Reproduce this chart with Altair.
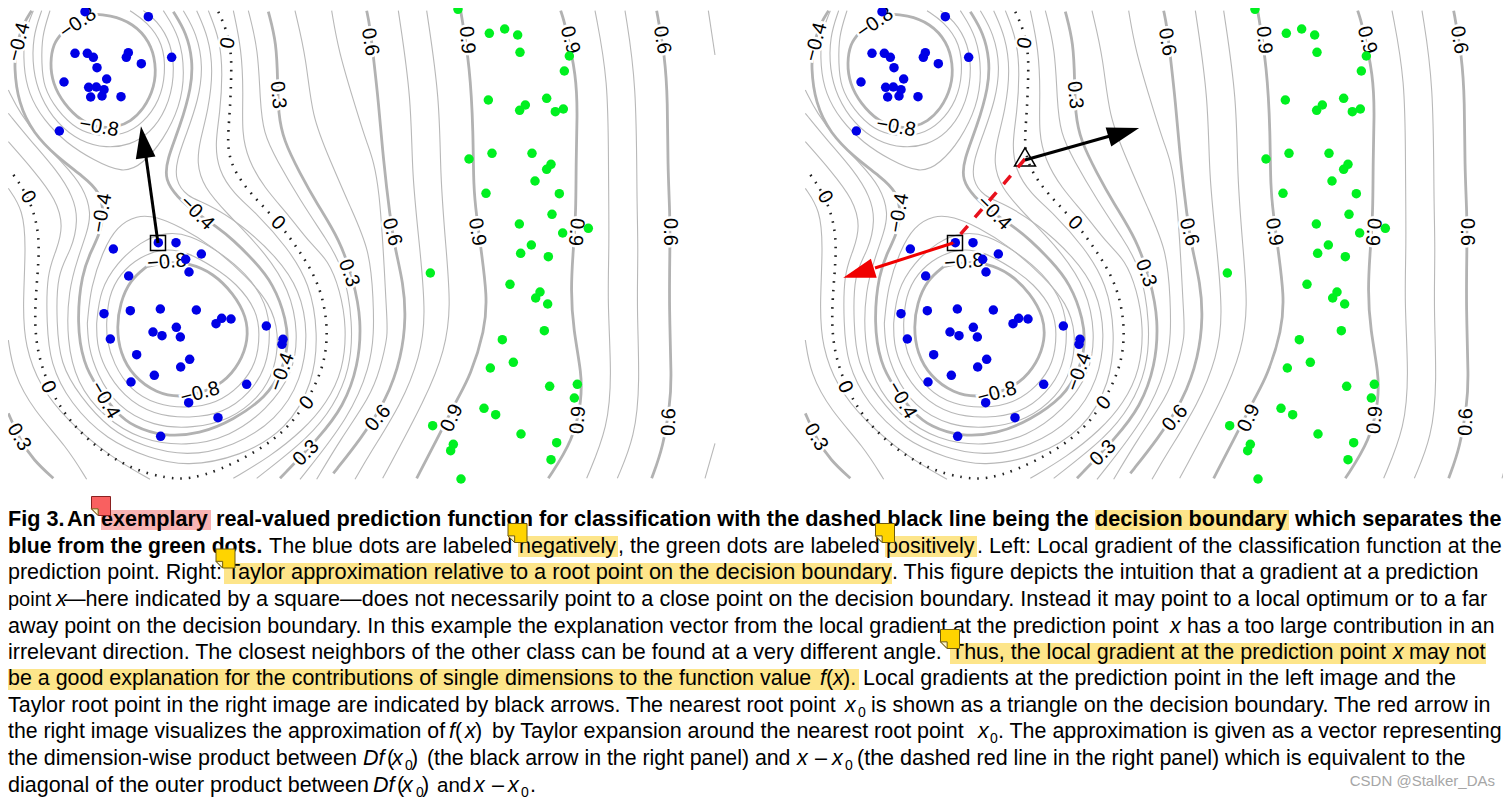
import altair as alt
import pandas as pd

PANEL_SHIFT = 797
# Contours, in thirds of a pixel
thick_m08_top = [(270,42),(330,45),(400,70),(450,125),(468,190),(465,260),(430,330),(390,365),(355,380),(300,385),(245,365),(190,310),(158,250),(150,190),(160,130),(185,100),(225,60)]
thick_m08_low = [(440,800),(390,840),(360,910),(350,980),(360,1060),(400,1130),(470,1180),(540,1192),(600,1180),(670,1150),(720,1090),(745,1020),(740,950),(700,880),(640,820),(570,790),(500,785),(440,800)]
thin_m07_top = [(150,32),(125,110),(125,190),(130,260),(170,330),(230,390),(300,410),(370,405),(430,370),(480,300),(497,220),(490,130),(440,65),(390,32)]
thin_m06_top = [(125,32),(98,110),(98,210),(120,290),(170,370),(240,425),(320,445),(390,435),(450,400),(500,330),(525,230),(515,130),(470,60),(430,32)]
thin_m05_top = [(100,32),(72,100),(70,200),(85,280),(130,360),(200,430),(280,480),(370,522),(430,490),(490,420),(540,320),(555,220),(540,110),(490,32)]
thin_m07_low = [(320,970),(325,890),(360,820),(420,770),(490,745),(560,755),(640,800),(710,850),(770,930),(780,1000),(770,1090),(720,1160),(650,1210),(560,1225),(470,1215),(390,1170),(340,1090),(320,1020),(320,970)]
thin_m06_low = [(290,970),(300,870),(350,790),(420,725),(500,695),(570,705),(650,750),(740,820),(800,910),(812,1000),(800,1100),(750,1180),(670,1240),(570,1255),(460,1245),(370,1190),(310,1100),(290,1030),(290,970)]
thin_m05_low = [(262,970),(272,860),(310,750),(350,680),(410,645),(470,650),(540,680),(640,740),(740,830),(810,910),(838,1000),(825,1110),(780,1190),(690,1260),(580,1285),(460,1280),(350,1220),(290,1120),(265,1040),(262,970)]
thick_m04 = [(95,32),(70,70),(48,140),(42,200),(55,310),(100,400),(170,470),(250,530),(300,575),(312,640),(300,700),(275,750),(245,820),(230,970),(250,1090),(290,1160),(350,1240),(400,1280),(490,1310),(600,1302),(700,1260),(800,1190),(845,1115),(865,1040),(860,960),(820,850),(760,780),(700,720),(650,680),(590,640),(530,590),(495,540),(500,480),(540,380),(575,260),(578,180),(560,100),(520,35)]
thin_m03 = [(25,270),(60,340),(120,420),(190,490),(250,560),(275,640),(260,700),(235,770),(205,870),(200,1020),(230,1150),(310,1250),(420,1320),(560,1340),(690,1310),(800,1230),(880,1120),(895,1000),(870,870),(790,750),(680,640),(610,560),(590,490),(600,420),(625,330),(640,210),(625,110),(590,32)]
thin_m02 = [(25,340),(90,420),(170,510),(220,590),(235,660),(215,750),(170,820),(170,970),(180,1090),(240,1190),(330,1290),(430,1340),(560,1370),(700,1340),(830,1260),(905,1140),(925,1000),(900,870),(830,770),(720,670),(620,610),(560,590),(525,540),(530,480),(560,400),(595,300),(610,200),(590,100),(550,32)]
thin_m01 = [(25,425),(100,510),(170,600),(190,680),(170,750),(140,820),(140,970),(150,1090),(210,1210),(320,1320),(450,1375),(560,1400),(720,1370),(860,1290),(940,1150),(955,1000),(930,850),(860,740),(770,640),(700,580),(655,510),(645,430),(660,340),(668,220),(660,120),(625,32)]
dotted_zero = [(655,35),(680,90),(692,150),(695,200),(690,340),(680,440),(700,510),(750,580),(830,660),(890,740),(960,850),(985,980),(975,1090),(930,1190),(870,1280),(780,1350),(660,1410),(570,1438),(500,1435),(400,1410),(280,1340),(180,1230),(130,1120),(105,1020),(105,900),(120,750),(110,660),(80,580),(30,510)]
thin_p01_a = [(700,32),(725,150),(730,280),(725,400),(745,480),(790,560),(870,650),(930,730),(985,780),(1020,870),(1040,980),(1030,1110),(980,1210),(910,1290),(810,1370),(700,1435)]
thin_p02_a = [(745,32),(775,150),(780,300),(790,400),(830,480),(900,600),(980,720),(1030,800),(1060,970),(1050,1110),(1000,1220),(930,1310),(770,1435)]
thin_p01_b = [(25,565),(70,630),(78,740),(68,920),(75,1040),(120,1160),(200,1260),(330,1370),(450,1438)]
thin_p02_b = [(25,1020),(40,1120),(100,1230),(200,1340),(260,1438)]
thick_p03_a = [(805,35),(830,130),(833,250),(835,340),(850,420),(900,520),(950,610),(1020,720),(1060,840),(1085,960),(1075,1100),(1030,1220),(960,1310),(840,1435)]
thick_p03_b = [(25,1240),(60,1320),(100,1380),(160,1435)]
thin_p04 = [(885,32),(920,180),(935,350),(990,480),(1050,620),(1110,750),(1120,900),(1122,1000),(1110,1100),(1050,1250),(900,1438)]
thin_p05 = [(995,32),(1015,150),(1060,300),(1100,430),(1140,530),(1160,960),(1165,1000),(1140,1110),(1110,1190),(1020,1320),(950,1438)]
thick_p06_a = [(1100,32),(1110,80),(1120,170),(1135,300),(1150,480),(1170,650),(1185,745),(1210,850),(1218,950),(1205,1070),(1160,1200),(1080,1320),(1000,1420)]
thin_p07_a = [(1195,32),(1235,300),(1235,520),(1260,745),(1278,950),(1260,1070),(1205,1210),(1110,1360),(1065,1438)]
thin_p08_a = [(1280,32),(1320,300),(1320,520),(1338,745),(1353,920),(1335,1050),(1280,1190),(1148,1435)]
thick_p09_a = [(1382,32),(1410,200),(1420,400),(1420,560),(1430,650),(1442,740),(1462,890),(1455,990),(1410,1130),(1375,1190),(1310,1320),(1250,1435)]
thick_p09_b = [(1682,32),(1695,70),(1730,230),(1732,350),(1728,480),(1728,640),(1720,745),(1712,870),(1720,990),(1745,1120),(1745,1200),(1720,1320),(1645,1435)]
thin_p08_b = [(1785,32),(1825,240),(1825,500),(1828,745),(1822,900),(1835,1120),(1825,1280),(1760,1435)]
thin_p07_b = [(1875,32),(1910,250),(1910,600),(1915,745),(1910,920),(1920,1150),(1905,1310),(1852,1435)]
thick_p06_b = [(1970,32),(1995,170),(2003,300),(2003,500),(2010,640),(2010,745),(2007,920),(2015,1140),(2010,1210),(1990,1340),(1955,1435)]
thin_p05_b = [(2125,32),(2145,165)]
thin_p05_c = [(2145,1330),(2115,1435)]

thin_contours = [thin_m07_top, thin_m06_top, thin_m05_top, thin_m07_low, thin_m06_low, thin_m05_low, thin_m03, thin_m02, thin_m01,
                 thin_p01_a, thin_p02_a, thin_p01_b, thin_p02_b, thin_p04, thin_p05, thin_p07_a, thin_p08_a, thin_p08_b, thin_p07_b, thin_p05_b, thin_p05_c]
thick_contours = [thick_m08_top, thick_m08_low, thick_m04, thick_p03_a, thick_p03_b, thick_p06_a, thick_p09_a, thick_p09_b, thick_p06_b]
zero_contours = [dotted_zero]

# Contour labels: x, y, text, angle
label_x = [19,78,99,228,278,370,197,278,28,102,167,349,282,200,307,306,105,48,19,378,452,578,669,392,467,477,576,570,662,670]
label_y = [42,23,127,43,95,42,213,223,197,213,262,273,372,393,403,453,400,387,437,418,418,420,422,232,40,232,232,40,40,232]
label_t = ["−0.4","−0.8","−0.8","0","0.3","0.6","−0.4","0","0","−0.4","−0.8","0.3","−0.4","−0.8","0","0.3","−0.4","0","0.3","0.6","0.9","0.9","0.6","0.6","0.9","0.9","0.9","0.9","0.6","0.6"]
label_a = [285,325,10,280,85,80,45,45,60,280,355,70,290,345,310,315,60,65,60,310,295,275,272,75,85,80,95,75,80,90]

# Dots, thirds of a pixel
blue = [(255,35),(445,50),(225,160),(262,160),(280,172),(385,158),(379,172),(424,191),(515,172),(291,203),(320,237),(192,246),(266,262),(289,261),(312,269),(272,291),(306,288),(363,290),(178,393),
        (340,747),(475,728),(528,728),(604,762),(557,778),(567,816),(386,828),(312,941),(391,932),(481,927),(589,930),(665,955),(648,971),(693,957),(799,978),(849,1018),(846,1033),(529,982),(459,996),(486,1007),(541,1011),(331,1017),(410,1064),(569,1078),(542,1101),(463,1126),(393,1146),(740,1153),(566,1208),(654,1253),(482,1309)]
green = [(1374,28),(1468,100),(1514,87),(1553,105),(1560,157),(1708,168),(1693,213),(1465,300),(1576,315),(1559,331),(1640,295),(1666,335),(1690,327),(1476,460),(1407,477),(1596,460),(1653,493),(1640,508),(1605,543),(1458,580),(1678,581),(1656,643),(1558,672),(1765,685),(1688,699),(1594,735),
         (1562,760),(1645,770),(1291,819),(1530,853),(1620,876),(1607,894),(1643,912),(1633,992),(1507,1019),(1540,1087),(1471,1104),(1649,1159),(1732,1153),(1723,1194),(1452,1225),(1487,1244),(1298,1277),(1563,1302),(1360,1333),(1352,1352),(1670,1328),(1653,1379),(1383,1437)]

# Arrows and markers, pixels
black_stem_x = [[158,146],[1025,1110]]
black_stem_y = [[243,157],[160,136]]
red_stem = [(953,243),(875,268)]
dash_line = [(1025,159),(953,243)]
square_x = [158,955]
square_y = [243,243]
triangle = (1025,157)
head_x = [143.3,1123.8,858.5]
head_y = [142,132.5,273]
head_a = [351.6,73.6,253]
head_c = ["black","black","#f00000"]

# Highlights
hl_x = [101,1095,518,885,224,950,8]
hl_x2 = [211,1289,618,977,892,1486,859]
hl_y = [510,510,536,536,563,643,669]
hl_y2 = [530,530,557,557,584,664,690]
hl_c = ["#f8b3b3","#fde58a","#fde58a","#fde58a","#fde58a","#fde58a","#fde58a"]

# Annotation notes
note_x = [101,517.5,225.5,885,950]
note_y = [506,533,558.5,533,639]
note_c = ["#f96060","#ffd400","#ffd400","#ffd400","#ffd400"]
note_b = ["#8a2020","#6e5a10","#6e5a10","#6e5a10","#6e5a10"]

# Caption: line number, x, text, kind
line_y = [526,552.7,579,606,632.6,658.5,685,711.7,738,765,791.7]
line_size = [21.6,21.55,21.5,21.6,21.5,21.5,21.5,21.5,21.45,21.5,21.5]
segment_size = {(0,216):21.7,(1,8):21.2,(1,618):21.5,(2,227):21.75,(3,8):20,(4,1187):21.2,(8,8):21.25,(8,492):21.5,
                (9,427):21.3,(10,437):20.5,(7,8):21.45,(6,8):21.45}
caption = [
 (0,8,"Fig 3.","b"),(0,67,"An","b"),(0,101,"exemplary","b"),(0,216,"real-valued prediction function for classification with the dashed black line being the","b"),(0,1095,"decision boundary","b"),(0,1295,"which separates the","b"),
 (1,8,"blue from the green dots.","b"),(1,269,"The blue dots are labeled","n"),(1,519,"negatively","n"),(1,618,", the green dots are labeled","n"),(1,886,"positively","n"),(1,977,". Left: Local gradient of the classification function at the","n"),
 (2,8,"prediction point. Right:","n"),(2,227,"Taylor approximation relative to a root point on the decision boundary","n"),(2,892,". This figure depicts the intuition that a gradient at a prediction","n"),
 (3,8,"point","n"),(3,56,"x","i"),(3,64,"—here indicated by a square—does not necessarily point to a close point on the decision boundary. Instead it may point to a local optimum or to a far","n"),
 (4,8,"away point on the decision boundary. In this example the explanation vector from the local gradient at the prediction point","n"),(4,1170,"x","i"),(4,1187,"has a too large contribution in an","n"),
 (5,8,"irrelevant direction. The closest neighbors of the other class can be found at a very different angle.","n"),(5,951,"Thus, the local gradient at the prediction point","n"),(5,1393,"x","i"),(5,1409,"may not","n"),
 (6,8,"be a good explanation for the contributions of single dimensions to the function value","n"),(6,820,"f","i"),(6,826,"(","n"),(6,833,"x","i"),(6,843,").","n"),(6,863,"Local gradients at the prediction point in the left image and the","n"),
 (7,8,"Taylor root point in the right image are indicated by black arrows. The nearest root point","n"),(7,845,"x","i"),(7,858,"0","s"),(7,871,"is shown as a triangle on the decision boundary. The red arrow in","n"),
 (8,8,"the right image visualizes the approximation of","n"),(8,449,"f","i"),(8,455,"(","n"),(8,465,"x","i"),(8,475,")","n"),(8,492,"by Taylor expansion around the nearest root point","n"),(8,978,"x","i"),(8,990,"0","s"),(8,998,". The approximation is given as a vector representing","n"),
 (9,8,"the dimension-wise product between","n"),(9,363,"Df","i"),(9,387,"(","n"),(9,392,"x","i"),(9,405,"0","s"),(9,411,")","n"),(9,427,"(the black arrow in the right panel) and","n"),(9,797,"x","i"),(9,815,"–","n"),(9,832,"x","i"),(9,845,"0","s"),(9,857,"(the dashed red line in the right panel) which is equivalent to the","n"),
 (10,8,"diagonal of the outer product between","n"),(10,373,"Df","i"),(10,397,"(","n"),(10,402,"x","i"),(10,416,"0","s"),(10,422,")","n"),(10,437,"and","n"),(10,474,"x","i"),(10,492,"–","n"),(10,508,"x","i"),(10,521,"0","s"),(10,530,".","n"),
]

def contour_frame(contours, prefix):
    rows = []
    for shift, panel in ((0, "L"), (PANEL_SHIFT, "R")):
        for n, c in enumerate(contours):
            for i, (a, b) in enumerate(c):
                rows.append({"x": a / 3 + shift, "y": b / 3, "id": f"{prefix}{panel}{n}", "i": i})
    return pd.DataFrame(rows)

def both(points):
    return pd.DataFrame([{"x": a / 3 + s, "y": b / 3} for s in (0, PANEL_SHIFT) for a, b in points])

xs = alt.Scale(domain=[8, 1503], nice=False, zero=False)
ys = alt.Scale(domain=[797, 8], nice=False, zero=False)
X = alt.X("x:Q", scale=xs, axis=None)
Y = alt.Y("y:Q", scale=ys, axis=None)

def lines(df, **kw):
    return alt.Chart(df).mark_line(interpolate="basis", **kw).encode(X, Y, detail="id:N", order="i:Q")

hl = alt.Chart(pd.DataFrame({"x": hl_x, "x2": hl_x2, "y": hl_y, "y2": hl_y2, "c": hl_c})).mark_rect().encode(
    X, alt.X2("x2:Q"), Y, alt.Y2("y2:Q"), color=alt.Color("c:N", scale=None))

thin = lines(contour_frame(thin_contours, "t"), color="#b8b8b8", strokeWidth=1.1)
thick = lines(contour_frame(thick_contours, "k"), color="#b2b2b2", strokeWidth=2.8)
zero = lines(contour_frame(zero_contours, "z"), color="#222222", strokeWidth=2.6, strokeDash=[1.6, 7])

lab = pd.DataFrame({"x": label_x + [v + PANEL_SHIFT for v in label_x], "y": label_y * 2, "t": label_t * 2, "a": label_a * 2})
lab_enc = dict(x=X, y=Y, text="t:N", angle=alt.Angle("a:Q", scale=None))
halo = alt.Chart(lab).mark_text(font="Liberation Sans", fontSize=20, stroke="white", strokeWidth=5, fill="white", baseline="middle").encode(**lab_enc)
labels = alt.Chart(lab).mark_text(font="Liberation Sans", fontSize=20, color="black", baseline="middle").encode(**lab_enc)

blue_dots = alt.Chart(both(blue)).mark_circle(color="#0000e6", size=90, opacity=1).encode(X, Y)
green_dots = alt.Chart(both(green)).mark_circle(color="#00f020", size=90, opacity=1).encode(X, Y)

squares = alt.Chart(pd.DataFrame({"x": square_x, "y": square_y})).mark_point(shape="square", size=225, filled=False, color="black", strokeWidth=1.5, opacity=1).encode(X, Y)
tri = alt.Chart(pd.DataFrame({"x": [triangle[0]], "y": [triangle[1]]})).mark_point(shape="triangle-up", size=441, filled=False, color="black", strokeWidth=1.5, opacity=1).encode(X, Y)
dash = alt.Chart(pd.DataFrame({"x": [p[0] for p in dash_line], "y": [p[1] for p in dash_line], "i": [0, 1]})).mark_line(color="#e8101c", strokeWidth=3.5, strokeDash=[11, 11]).encode(X, Y, order="i:Q")

stem_rows = [{"x": a, "y": b, "id": f"s{n}", "i": i} for n, (xx, yy) in enumerate(zip(black_stem_x, black_stem_y)) for i, (a, b) in enumerate(zip(xx, yy))]
black_stems = alt.Chart(pd.DataFrame(stem_rows)).mark_line(color="black", strokeWidth=3).encode(X, Y, detail="id:N", order="i:Q")
red_stem_layer = alt.Chart(pd.DataFrame({"x": [p[0] for p in red_stem], "y": [p[1] for p in red_stem], "i": [0, 1]})).mark_line(color="#f00000", strokeWidth=3).encode(X, Y, order="i:Q")
heads = alt.Chart(pd.DataFrame({"x": head_x, "y": head_y, "a": head_a, "c": head_c})).mark_point(
    shape="M0,-1 L0.62,1 L-0.62,1 Z", size=1024, filled=True, opacity=1).encode(
    X, Y, angle=alt.Angle("a:Q", scale=None), color=alt.Color("c:N", scale=None))

cap = pd.DataFrame([{"x": x, "y": line_y[n] + (5 if k == "s" else 0), "t": t, "k": k,
                     "s": 14 if k == "s" else segment_size.get((n, x), line_size[n])} for n, x, t, k in caption])
def text_layer(kinds, **kw):
    return alt.Chart(cap[cap.k.isin(kinds)]).mark_text(font="Liberation Sans", align="left", baseline="alphabetic", color="black", **kw).encode(
        X, Y, text="t:N", size=alt.Size("s:Q", scale=None))
tx_n = text_layer(["n", "s"])
tx_b = text_layer(["b"], fontWeight="bold")
tx_i = text_layer(["i"], fontStyle="italic")

notes = pd.DataFrame({"x": note_x, "y": note_y, "c": note_c, "b": note_b})
note_body = alt.Chart(notes).mark_point(shape="M-1,-1 L1,-1 L1,1 L-0.3,1 L-1,0.3 Z", size=361, filled=True, opacity=1, strokeWidth=1).encode(
    X, Y, color=alt.Color("c:N", scale=None), stroke=alt.Stroke("b:N", scale=None))
note_fold = alt.Chart(notes).mark_point(shape="M-1,0.3 L-0.3,0.3 L-0.3,1 Z", size=361, filled=True, opacity=1, color="#fff5c8", strokeWidth=1, stroke="#6e5a10").encode(X, Y)

mark = alt.Chart(pd.DataFrame({"x": [1495], "y": [781], "t": ["CSDN @Stalker_DAs"]})).mark_text(
    font="Liberation Sans", fontSize=15, align="right", baseline="middle", color="#a6a6a6").encode(X, Y, text="t:N")

chart = alt.layer(hl, thin, thick, zero, halo, labels, blue_dots, green_dots, squares, tri, dash, black_stems, red_stem_layer, heads,
                  tx_n, tx_b, tx_i, note_body, note_fold, mark).properties(
    width=1495, height=789, padding=0, background="white", autosize=alt.AutoSizeParams(type="none")
).configure_view(strokeWidth=0)

chart.save("out.html", embed_options={"renderer": "svg", "actions": False})
